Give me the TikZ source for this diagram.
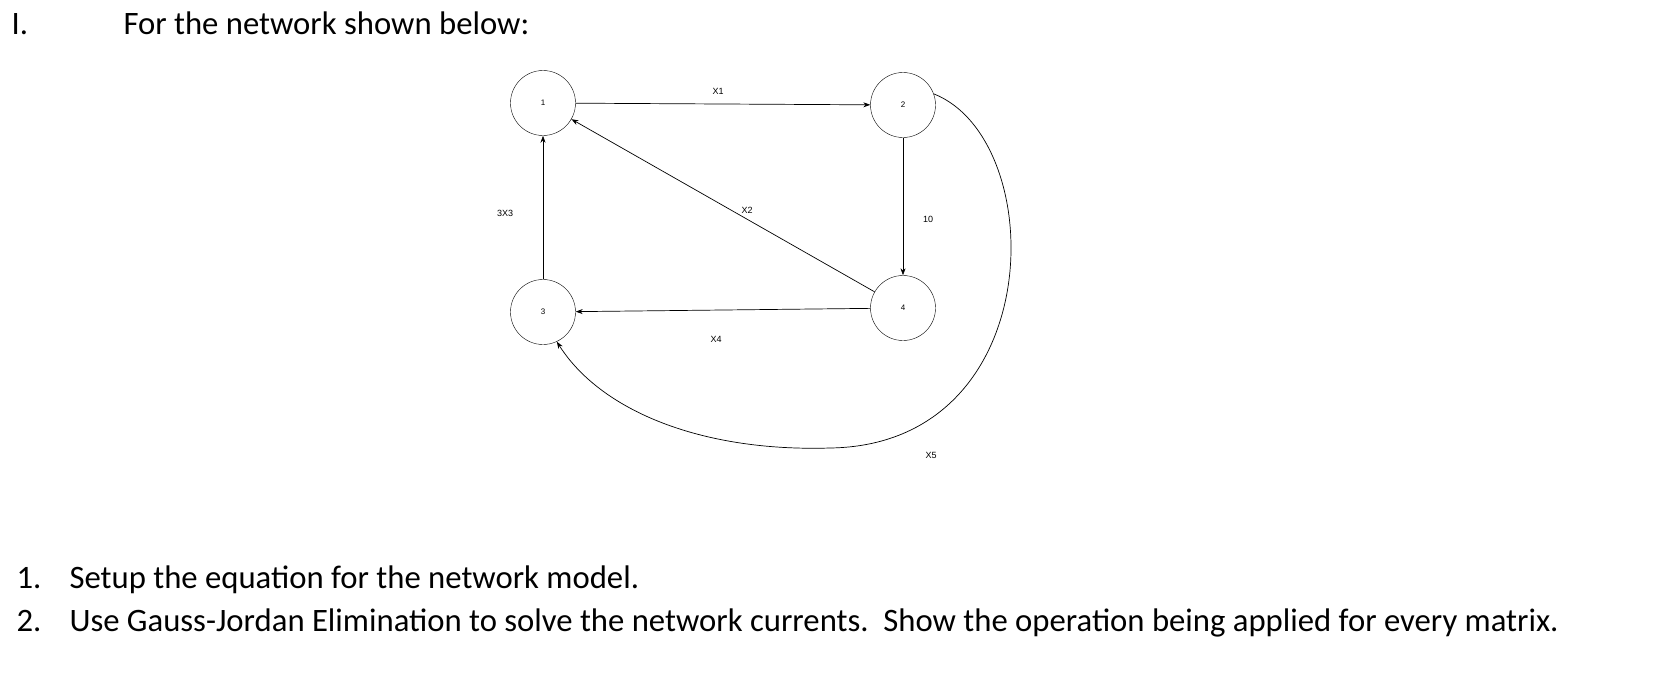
\documentclass[tikz,border=0pt]{standalone}
\usepackage{fontspec}
\setmainfont{Carlito}
\newfontfamily\lab{Liberation Sans}
\usetikzlibrary{arrows.meta}
\begin{document}
\begin{tikzpicture}[x=1pt,y=-1pt,
  nd/.style={circle,draw,minimum size=65pt,inner sep=0pt,font=\lab\fontsize{8}{8}\selectfont},
  lb/.style={font=\lab\fontsize{9}{9}\selectfont},
  ar/.style={-{Stealth[length=7pt,width=5pt]},line width=0.7pt},
  big/.style={font=\fontsize{32.7}{36}\selectfont,anchor=base west}]
\useasboundingbox (0,0) rectangle (1659,678);
\node[nd] (n1) at (543,103) {1};
\node[nd] (n2) at (903,105) {2};
\node[nd] (n3) at (543,312) {3};
\node[nd] (n4) at (903,308) {4};
\draw[ar] (n1) -- (n2);
\draw[ar] (n2) -- (n4);
\draw[ar] (n3) -- (n1);
\draw[ar] (n4) -- (n1);
\draw[ar] (n4) -- (n3);
\coordinate (m) at (830,448);
\draw[ar] (n2.20) .. controls (1050,140) and (1050,445) .. (m) .. controls (700,452) and (600,410) .. (n3.-65);
\node[lb] (l1) at (718,91) {X1};
\node[lb] (l2) at (747,210) {X2};
\node[lb] (l3) at (505,213) {3X3};
\node[lb] (l4) at (928,219) {10};
\node[lb] (l5) at (716,339) {X4};
\node[lb] (l6) at (931,455) {X5};
\node[big] (t0) at (8,34) {I.};
\node[big] (t1) at (120,34) {For the network shown below:};
\node[big] (t2) at (13,588) {1.};
\node[big] (t3) at (66,588) {Setup the equation for the network model.};
\node[big] (t4) at (13,631) {2.};
\node[big] (t5) at (66,631) {Use Gauss-Jordan Elimination to solve the network currents.\ \ Show the operation being applied for every matrix.};
\end{tikzpicture}
\end{document}
